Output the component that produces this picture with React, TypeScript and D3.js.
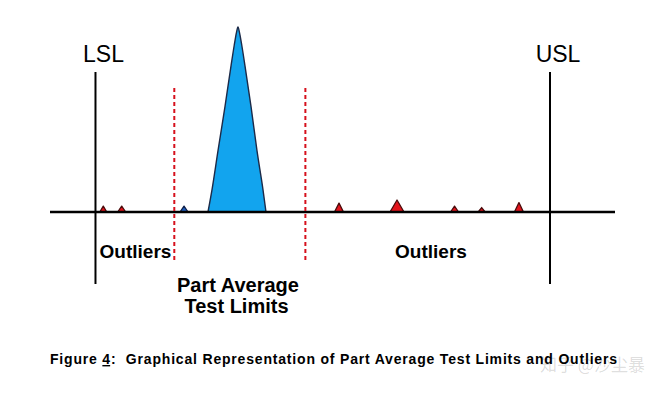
import * as d3 from 'd3';

// x in measurement units (0..100 across the baseline), y as relative frequency (0..1)
const limits = [
  { name: 'LSL', value: 8.05 },
  { name: 'USL', value: 88.5 },
];
const patLimits = [22.0, 45.2];

// main population outline: [x, relative height]
const mainPeakX = [27.96, 28.67, 29.73, 30.97, 32.04, 32.6, 33.0, 33.27, 33.54, 33.95, 34.51, 35.58, 36.64, 37.7, 38.23];
const mainPeakY = [0, 0.12, 0.33, 0.57, 0.79, 0.9, 0.97, 1.0, 0.97, 0.9, 0.79, 0.57, 0.33, 0.12, 0];

// outlier bumps: center, half width, height, kind
const outlierCenters = [9.43, 12.69, 23.72, 51.15, 61.42, 71.6, 76.4, 83.0];
const outlierHalfWidths = [0.62, 0.71, 0.71, 0.8, 1.24, 0.71, 0.62, 0.8];
const outlierHeights = [0.032, 0.032, 0.032, 0.048, 0.065, 0.032, 0.024, 0.051];
const outlierKinds = ['out', 'out', 'in', 'out', 'out', 'out', 'out', 'out'];

const W = 665;
const H = 397;
const baseY = 212;
const font = '"Liberation Sans", Arial, sans-serif';

export default function App() {
  const x = d3.scaleLinear().domain([0, 100]).range([50, 615]);
  const y = d3.scaleLinear().domain([0, 1]).range([baseY, 27]);

  const line = d3.line<[number, number]>()
    .x(d => x(d[0]))
    .y(d => y(d[1]));

  const mainPath = line.curve(d3.curveMonotoneX)(
    mainPeakX.map((v, i) => [v, mainPeakY[i]] as [number, number])
  )!;

  const bumpLine = d3.line<[number, number]>()
    .x(d => x(d[0]))
    .y(d => y(d[1]));

  const bumps = outlierCenters.map((c, i) => ({
    d: bumpLine([
      [c - outlierHalfWidths[i], 0],
      [c, outlierHeights[i]],
      [c + outlierHalfWidths[i], 0],
    ])!,
    kind: outlierKinds[i],
  }));

  return (
    <div style={{ position: 'absolute', left: 0, top: 0 }}>
      <svg width={W} height={H} style={{ display: 'block', background: '#fff' }}>
        {/* main population */}
        <path d={mainPath + 'Z'} fill="#12a4ee" stroke="#1c2a48" strokeWidth={1.4} strokeLinejoin="round" />

        {/* outlier bumps */}
        {bumps.map((b, i) => (
          <path
            key={i}
            d={b.d + 'Z'}
            fill={b.kind === 'in' ? '#1f5fc0' : '#e3141c'}
            stroke={b.kind === 'in' ? '#10204a' : '#4a0c0c'}
            strokeWidth={1.3}
            strokeLinejoin="round"
          />
        ))}

        {/* baseline */}
        <line x1={x(0)} x2={x(100)} y1={baseY} y2={baseY} stroke="#000" strokeWidth={2.5} />

        {/* spec limits */}
        {limits.map(l => (
          <g key={l.name}>
            <line x1={x(l.value)} x2={x(l.value)} y1={72} y2={284} stroke="#000" strokeWidth={2} />
            <text x={x(l.value) + 8} y={62} fontFamily={font} fontSize={23} textAnchor="middle" fill="#000">
              {l.name}
            </text>
          </g>
        ))}

        {/* part average test limits */}
        {patLimits.map((v, i) => (
          <line
            key={i}
            x1={x(v)}
            x2={x(v)}
            y1={88}
            y2={260}
            stroke="#d6101c"
            strokeWidth={2}
            strokeDasharray="4,3"
          />
        ))}

        <text x={135.5} y={257.5} fontFamily={font} fontSize={19} fontWeight="bold" textAnchor="middle">Outliers</text>
        <text x={431} y={257.5} fontFamily={font} fontSize={19} fontWeight="bold" textAnchor="middle">Outliers</text>
        <text x={238} y={291.5} fontFamily={font} fontSize={20} fontWeight="bold" textAnchor="middle">Part Average</text>
        <text x={236.5} y={312.5} fontFamily={font} fontSize={20} fontWeight="bold" textAnchor="middle">Test Limits</text>

        {/* caption */}
        <text
          x={50}
          y={364}
          fontFamily={font}
          fontSize={14}
          fontWeight="bold"
          xmlSpace="preserve"
          textLength={567}
          lengthAdjust="spacing"
        >
          Figure <tspan textDecoration="underline">4</tspan>:  Graphical Representation of Part Average Test Limits and Outliers
        </text>

        {/* watermark */}
        <text x={540} y={371} fontFamily='"Noto Sans CJK SC", sans-serif' fontSize={17} fill="#000" fillOpacity={0.15}>
          知乎 @沙尘暴
        </text>
      </svg>
    </div>
  );
}
